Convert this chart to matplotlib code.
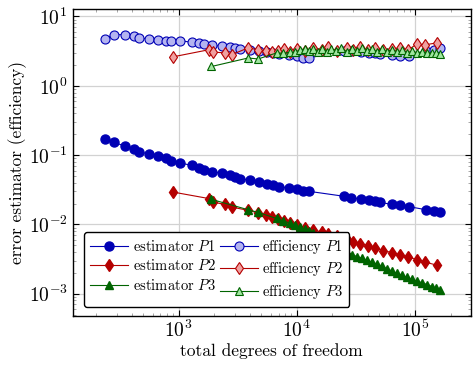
import matplotlib
matplotlib.use("Agg")
import matplotlib.pyplot as plt

# Datos (grados de libertad, estimador y eficiencia)
dof_p1 = [239, 281, 351, 416, 458, 557, 673, 787, 867, 1033, 1282, 1486, 1629, 1915,
          2300, 2690, 3020, 3311, 3997, 4797, 5534, 6295, 7035, 8511, 9938, 11300, 12560,
          25000, 28700, 34670, 40740, 46100, 50500, 63500, 74650, 88500, 123900, 144900, 162900]
est_p1 = [0.1706, 0.153, 0.135, 0.121, 0.1116, 0.1045, 0.0968, 0.0895, 0.0818, 0.0773,
          0.0709, 0.0654, 0.0612, 0.0580, 0.0548, 0.0518, 0.0485, 0.0459, 0.0434, 0.0406,
          0.0389, 0.0367, 0.0352, 0.0336, 0.0322, 0.0308, 0.0301, 0.0255, 0.0244, 0.0233,
          0.0223, 0.0216, 0.0208, 0.0195, 0.0188, 0.0181, 0.0163, 0.0158, 0.0151]
eff_p1 = [4.80, 5.45, 5.48, 5.15, 4.90, 4.75, 4.62, 4.48, 4.38, 4.48, 4.24, 4.14, 4.02,
          3.86, 3.72, 3.62, 3.55, 3.40, 3.32, 3.21, 3.08, 2.98, 2.88, 2.75, 2.66, 2.55, 2.52,
          3.2, 3.2, 3.1, 3.0, 2.95, 2.9, 2.75, 2.72, 2.72, 3.2, 3.3, 3.5]

dof_p2 = [885, 1807, 1931, 2455, 2798, 3866, 4696, 5428, 6103, 6945, 7762, 8730, 9938,
          11700, 13750, 16200, 18400, 21700, 26400, 30000, 34200, 40200, 45800, 53900,
          63500, 74700, 87700, 103300, 121600, 152800]
est_p2 = [0.0294, 0.0236, 0.0210, 0.0195, 0.0178, 0.0160, 0.0146, 0.0135, 0.0128, 0.0118,
          0.0112, 0.0104, 0.00968, 0.00896, 0.00838, 0.00773, 0.00733, 0.00681, 0.00612,
          0.00567, 0.00531, 0.00488, 0.00456, 0.00420, 0.00393, 0.00361, 0.00338, 0.00311,
          0.00286, 0.00259]
eff_p2 = [2.61, 3.32, 3.08, 2.98, 2.81, 3.52, 3.32, 3.14, 3.1, 3.2, 3.4, 3.1, 3.45, 3.2,
          3.5, 3.3, 3.6, 3.2, 3.5, 3.3, 3.6, 3.3, 3.5, 3.3, 3.4, 3.5, 3.3, 4.0, 3.9, 4.16]

dof_p3 = [1892, 3866, 4696, 6730, 7660, 8730, 9620, 10600, 11690, 12640, 13750, 15070,
          16290, 17960, 19420, 21410, 23600, 26390, 29240, 32230, 35540, 39180, 43200,
          47630, 52510, 57900, 63830, 70370, 77600, 85540, 94300, 104000, 114600, 126400,
          139300, 150700, 162900]
est_p3 = [0.0230, 0.0163, 0.0149, 0.0122, 0.0112, 0.0105, 0.00984, 0.00920, 0.00847,
          0.00792, 0.00741, 0.00681, 0.00627, 0.00567, 0.00522, 0.00472, 0.00434, 0.00397,
          0.00368, 0.00344, 0.00324, 0.00304, 0.00286, 0.00268, 0.00248, 0.00230, 0.00212,
          0.00197, 0.00184, 0.00172, 0.00161, 0.00152, 0.00144, 0.00136, 0.00127, 0.00121,
          0.00114]
eff_p3 = [1.90, 2.52, 2.44, 2.98, 2.95, 3.05, 3.04, 3.3, 3.40, 3.15, 3.4, 3.1, 3.45, 3.1,
          3.4, 3.2, 3.5, 3.1, 3.45, 3.2, 3.5, 3.2, 3.4, 3.1, 3.35, 3.1, 3.3, 3.05, 3.25, 3.0,
          3.15, 3.0, 3.1, 3.0, 3.0, 2.95, 2.88]

plt.rcParams['font.family'] = 'cmr10'
plt.rcParams['mathtext.fontset'] = 'cm'
plt.rcParams['axes.formatter.use_mathtext'] = True
plt.rcParams['axes.unicode_minus'] = False

fig = plt.figure(figsize=(4.74, 3.66), dpi=100)
ax = fig.add_axes([0.153, 0.137, 0.8407, 0.8376])

azul, rojo, verde = '#0000b4', '#b40000', '#006400'
lw = 0.8

ax.plot(dof_p1, est_p1, '-o', color=azul, mfc=azul, mec=azul, ms=6.5, lw=lw,
        label='estimator $P1$', zorder=3)
ax.plot(dof_p2, est_p2, '-d', color=rojo, mfc=rojo, mec=rojo, ms=6, lw=lw,
        label='estimator $P2$', zorder=3)
ax.plot(dof_p3, est_p3, '-^', color=verde, mfc=verde, mec=verde, ms=5.5, lw=lw,
        label='estimator $P3$', zorder=3)
ax.plot(dof_p1, eff_p1, '-o', color=azul, mfc='#b4b4f0', mec=azul, ms=6.5, lw=lw, mew=0.8,
        label='efficiency $P1$', zorder=3)
ax.plot(dof_p2, eff_p2, '-d', color=rojo, mfc='#f0a0a0', mec=rojo, ms=6, lw=lw, mew=0.8,
        label='efficiency $P2$', zorder=3)
ax.plot(dof_p3, eff_p3, '-^', color=verde, mfc='#a0e6a0', mec=verde, ms=5.5, lw=lw, mew=0.8,
        label='efficiency $P3$', zorder=3)

ax.set_xscale('log')
ax.set_yscale('log')
ax.set_xlim(126, 2.98e5)
ax.set_ylim(4.8e-4, 12.7)
ax.grid(True, which='major', color='#d2d2d2', lw=0.9)
ax.tick_params(which='both', direction='in', top=True, right=True, labelsize=14)
ax.tick_params(axis='x', which='major', pad=3)
ax.tick_params(which='major', length=4)
ax.tick_params(which='minor', length=2.5, color='#999999')
for s in ax.spines.values():
    s.set_linewidth(1.0)

ax.set_xlabel('total degrees of freedom', fontsize=12.5, labelpad=1)
ax.set_ylabel('error estimator (efficiency)', fontsize=12.5, labelpad=1)

leg = ax.legend(ncol=2, loc='lower left', bbox_to_anchor=(0.03, 0.03), fontsize=10.5,
                fancybox=True, framealpha=1, edgecolor='black', handlelength=2.6,
                columnspacing=0.3, handletextpad=0.3, labelspacing=0.3,
                borderpad=0.4, borderaxespad=0)
leg.get_frame().set_linewidth(1.0)

fig.savefig('out.png', dpi=100)
